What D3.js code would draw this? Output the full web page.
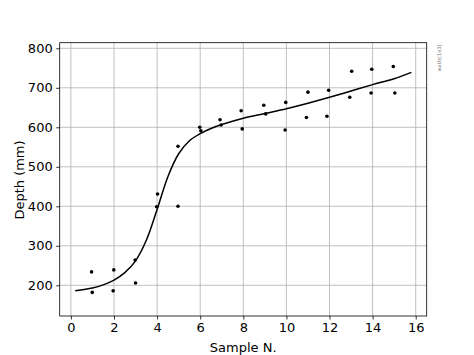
<!DOCTYPE html>
<html>
<head>
<meta charset="utf-8">
<script src="https://cdn.jsdelivr.net/npm/d3@7"></script>
<style>
  html, body { margin: 0; padding: 0; background: #fff; }
  svg { display: block; font-family: "DejaVu Sans", sans-serif; }
</style>
</head>
<body>
<svg id="chart" width="474" height="355"></svg>
<script>
// Sample points (two measurements per sample)
const sampleX = [0.96, 0.99, 1.99, 1.96, 2.98, 3.0, 4.02, 3.98, 4.97, 4.97, 5.98, 6.03, 6.92, 6.97, 7.9, 7.95, 8.95, 9.04, 9.97, 9.94, 11.0, 10.93, 11.96, 11.88, 13.03, 12.94, 13.96, 13.93, 14.96, 15.03];
const sampleDepth = [234, 182, 239, 186, 264, 206, 431, 399, 552, 400, 600, 591, 619, 606, 642, 596, 656, 634, 663, 593, 689, 625, 694, 628, 742, 676, 747, 687, 754, 687];

// Fitted curve
const curveX = [0.2, 1, 1.5, 2, 2.5, 3, 3.5, 4, 4.5, 5, 5.5, 6, 6.5, 7, 8, 9, 10, 11, 12, 13, 14, 15, 15.8];
const curveDepth = [186, 193, 201, 213, 232, 262, 314, 392, 475, 533, 566, 584, 597, 607, 623, 635, 647, 661, 676, 692, 708, 723, 739];

const xTicks = [0, 2, 4, 6, 8, 10, 12, 14, 16];
const yTicks = [200, 300, 400, 500, 600, 700, 800];

const xLabel = "Sample N.";
const yLabel = "Depth (mm)";
const sideLabel = "watts[1e3]";

const svg = d3.select("#chart");
const L = 59.7, R = 426.7, T = 42.7, B = 316;

const x = d3.scaleLinear().domain([-0.52, 16.51]).range([L, R]);
const y = d3.scaleLinear().domain([122.3, 814.2]).range([B, T]);

// grid
const grid = svg.append("g");
grid.selectAll("line.vx").data(xTicks).enter().append("line")
  .attr("x1", d => x(d)).attr("x2", d => x(d)).attr("y1", T).attr("y2", B)
  .attr("stroke", "#b0b0b0").attr("stroke-width", 0.8);
grid.selectAll("line.hy").data(yTicks).enter().append("line")
  .attr("x1", L).attr("x2", R).attr("y1", d => y(d)).attr("y2", d => y(d))
  .attr("stroke", "#b0b0b0").attr("stroke-width", 0.8);

// axes
const xAxis = svg.append("g").attr("transform", `translate(0,${B})`)
  .call(d3.axisBottom(x).tickValues(xTicks).tickSize(3.5).tickPadding(3.5).tickSizeOuter(0));
const yAxis = svg.append("g").attr("transform", `translate(${L},0)`)
  .call(d3.axisLeft(y).tickValues(yTicks).tickSize(3.5).tickPadding(3.5).tickSizeOuter(0));
[xAxis, yAxis].forEach(a => {
  a.select(".domain").remove();
  a.selectAll("text").attr("font-size", 13).attr("fill", "#000").attr("font-family", "DejaVu Sans");
  a.selectAll("line").attr("stroke", "#000").attr("stroke-width", 0.8);
});

// frame
svg.append("rect").attr("x", L).attr("y", T).attr("width", R - L).attr("height", B - T)
  .attr("fill", "none").attr("stroke", "#000").attr("stroke-width", 0.8);

// curve
const line = d3.line().x(d => x(d[0])).y(d => y(d[1])).curve(d3.curveCatmullRom.alpha(0.5));
svg.append("path").datum(curveX.map((v, i) => [v, curveDepth[i]]))
  .attr("d", line).attr("fill", "none").attr("stroke", "#000").attr("stroke-width", 1.5);

// points
svg.append("g").selectAll("circle").data(sampleX.map((v, i) => [v, sampleDepth[i]]))
  .enter().append("circle")
  .attr("cx", d => x(d[0])).attr("cy", d => y(d[1])).attr("r", 1.8).attr("fill", "#000");

// labels
svg.append("text").attr("x", (L + R) / 2).attr("y", 352).attr("text-anchor", "middle")
  .attr("font-size", 13).text(xLabel);
svg.append("text").attr("transform", `translate(23.5,180) rotate(-90)`).attr("text-anchor", "middle")
  .attr("font-size", 13).text(yLabel);
svg.append("text").attr("transform", `translate(440.5,58) rotate(-90)`).attr("text-anchor", "middle")
  .attr("font-size", 5).attr("fill", "#777").text(sideLabel);
</script>
</body>
</html>
